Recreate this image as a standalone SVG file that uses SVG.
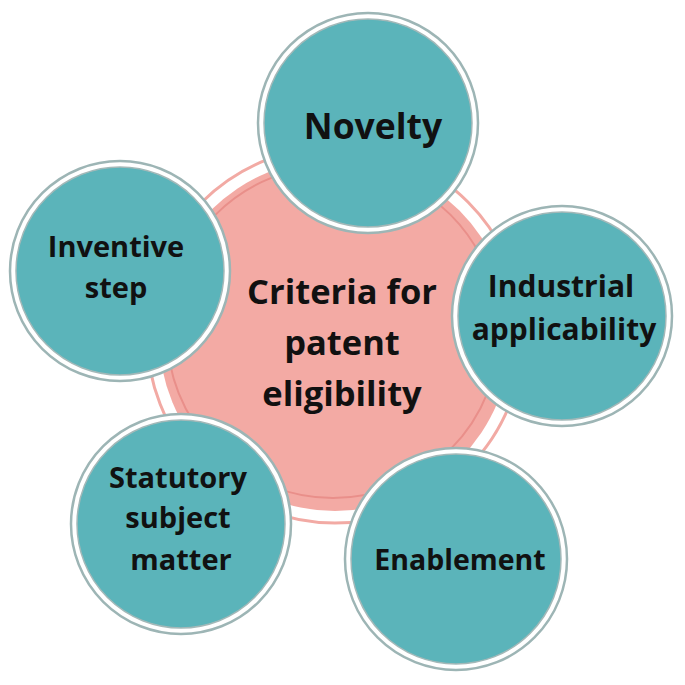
<svg xmlns="http://www.w3.org/2000/svg" width="685" height="685" viewBox="0 0 685 685">
<style>
.ring{fill:#ffffff;stroke:#9db5b5;stroke-width:2.5}
.disc{fill:#5bb4ba;stroke:#a3b8b8;stroke-width:1.5}
.lbl{font-family:"Open Sans","DejaVu Sans",sans-serif;font-weight:700;fill:#111111;text-anchor:middle}
</style>
<rect width="685" height="685" fill="#ffffff"/>
<g id="center">
<circle cx="335" cy="335" r="188" fill="none" stroke="#f2aaa4" stroke-width="3"/>
<circle cx="335" cy="335" r="176" fill="#f3aaa4"/>
<circle cx="333" cy="332" r="166" fill="none" stroke="#e98f8a" stroke-width="2"/>
<text class="lbl" font-size="34.5"><tspan x="342" y="304">Criteria for</tspan><tspan x="342" y="355">patent</tspan><tspan x="342" y="406">eligibility</tspan></text>
</g>
<g id="novelty">
<circle class="ring" cx="368" cy="123" r="110"/>
<circle class="disc" cx="368" cy="123" r="104"/>
<text class="lbl" font-size="35.5" x="373" y="139">Novelty</text>
</g>
<g id="inventive">
<circle class="ring" cx="120" cy="271" r="110"/>
<circle class="disc" cx="120" cy="271" r="104"/>
<text class="lbl" font-size="29"><tspan x="116" y="257">Inventive</tspan><tspan x="116" y="298">step</tspan></text>
</g>
<g id="industrial">
<circle class="ring" cx="562" cy="316" r="110"/>
<circle class="disc" cx="562" cy="316" r="104"/>
<text class="lbl" font-size="30"><tspan x="561" y="297">Industrial</tspan><tspan x="564" y="340">applicability</tspan></text>
</g>
<g id="statutory">
<circle class="ring" cx="181" cy="524" r="110"/>
<circle class="disc" cx="181" cy="524" r="104"/>
<text class="lbl" font-size="29"><tspan x="178" y="488">Statutory</tspan><tspan x="178" y="528">subject</tspan><tspan x="181" y="570">matter</tspan></text>
</g>
<g id="enablement">
<circle class="ring" cx="456" cy="559" r="111"/>
<circle class="disc" cx="456" cy="559" r="105"/>
<text class="lbl" font-size="28.5" x="460" y="570">Enablement</text>
</g>
<g id="connectors"/>
</svg>
